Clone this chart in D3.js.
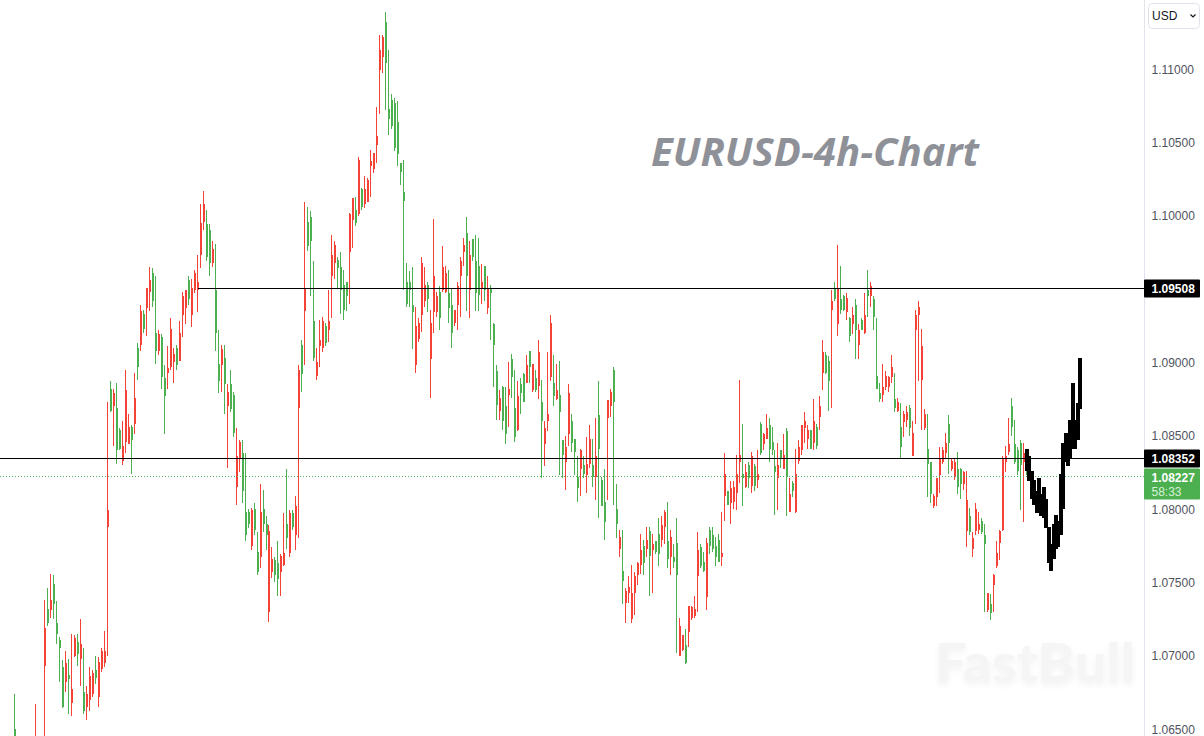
<!DOCTYPE html>
<html>
<head>
<meta charset="utf-8">
<title>EURUSD-4h-Chart</title>
<script src="https://d3js.org/d3.v7.min.js"></script>
<style>
  html, body { margin: 0; padding: 0; background: #fff; overflow: hidden; }
  svg { display: block; }
  text { font-family: "Liberation Sans", Arial, sans-serif; }
</style>
</head>
<body>
<div id="chart"></div>
<script>
// all candle values are in units of 0.0001 (10835 = 1.0835)
const highs = [
  10674,10640,10638,10642,10640,10643,10642,10667,10642,10643,
  10738,10746,10756,10755,10737,10713,10697,10703,10698,10715,
  10714,10715,10725,10705,10679,10692,10690,10700,10699,10705,
  10717,10873,10887,10882,10886,10855,10860,10895,10865,10857,
  10893,10913,10939,10936,10951,10965,10964,10959,10922,10919,
  10898,10911,10930,10910,10912,10928,10948,10949,10959,10957,
  10963,10973,11008,11017,11004,10994,10983,10981,10922,10912,
  10912,10885,10895,10880,10855,10847,10847,10838,10800,10801,
  10804,10784,10817,10813,10795,10789,10774,10767,10778,10769,
  10797,10827,10799,10799,10809,10898,10915,11009,11006,11003,
  10969,10910,10929,10931,10927,10949,10987,10983,10972,10975,
  10963,10955,11002,11012,11013,11040,11019,11027,11026,11045,
  11043,11074,11123,11123,11139,11113,11083,11080,11078,11036,
  11038,10968,10962,10965,10938,10930,10972,10965,10955,10936,
  10998,10948,10952,10979,10966,10963,10951,10936,10955,10972,
  10985,10999,10983,10984,10987,10985,10967,10966,10959,10953,
  10927,10898,10881,10884,10883,10900,10906,10895,10887,10889,
  10893,10905,10908,10899,10895,10915,10888,10860,10907,10932,
  10905,10899,10901,10847,10850,10885,10865,10848,10836,10841,
  10836,10849,10857,10848,10862,10887,10822,10827,10874,10882,
  10897,10817,10786,10786,10746,10754,10762,10757,10764,10783,
  10779,10788,10788,10783,10778,10794,10795,10799,10805,10786,
  10776,10794,10726,10714,10718,10734,10734,10741,10784,10776,
  10771,10780,10788,10788,10781,10783,10798,10838,10812,10819,
  10819,10837,10888,10858,10831,10832,10839,10831,10840,10859,
  10852,10865,10862,10856,10840,10845,10840,10851,10855,10821,
  10819,10841,10847,10857,10866,10857,10854,10875,10858,10877,
  10915,10907,10904,10949,10955,10980,10966,10946,10947,10931,
  10938,10943,10926,10930,10947,10963,10955,10945,10930,10886,
  10899,10894,10891,10905,10893,10876,10872,10867,10870,10871,
  10860,10936,10942,10923,10868,10865,10832,10810,10821,10842,
  10842,10852,10864,10835,10834,10839,10828,10826,10826,
  10801,10784,10804,10798,10794,10790,10743,10742,10756,10778,
  10786,10836,10843,10862,10876,10861,10842,10847,10845,10839
];
const lows = [
  10630,10625,10622,10625,10628,10630,10632,10630,10630,10630,
  10640,10720,10726,10725,10708,10682,10664,10675,10660,10659,
  10699,10693,10679,10660,10656,10662,10672,10681,10665,10689,
  10692,10700,10866,10843,10831,10840,10830,10838,10844,10824,
  10851,10888,10908,10920,10918,10935,10938,10899,10905,10882,
  10851,10882,10895,10886,10895,10901,10917,10926,10939,10924,
  10947,10934,10964,10990,10969,10959,10965,10908,10879,10880,
  10865,10828,10866,10849,10803,10825,10804,10778,10787,10772,
  10782,10755,10760,10784,10772,10723,10753,10750,10741,10741,
  10761,10773,10767,10786,10772,10780,10880,10898,10976,10945,
  10901,10888,10897,10907,10911,10914,10930,10957,10950,10933,
  10929,10935,10940,10978,10993,11000,11004,11005,11009,11013,
  11029,11036,11069,11097,11072,11055,11059,11044,11034,11021,
  10949,10938,10938,10909,10893,10914,10921,10938,10934,10876,
  10920,10931,10922,10948,10947,10927,10910,10925,10922,10931,
  10966,10935,10930,10969,10935,10935,10940,10942,10933,10915,
  10883,10861,10861,10854,10844,10856,10876,10846,10853,10865,
  10873,10886,10886,10880,10880,10875,10821,10829,10853,10887,
  10870,10874,10823,10821,10813,10843,10839,10823,10805,10809,
  10821,10811,10828,10815,10806,10794,10802,10779,10806,10863,
  10803,10780,10767,10735,10722,10736,10722,10728,10748,10756,
  10755,10767,10741,10743,10769,10761,10774,10776,10760,10755,
  10760,10702,10700,10703,10694,10706,10724,10726,10730,10760,
  10757,10731,10769,10771,10761,10764,10761,10792,10803,10790,
  10800,10799,10818,10802,10814,10814,10811,10812,10814,10837,
  10840,10848,10832,10837,10796,10799,10828,10827,10795,10798,
  10808,10797,10831,10837,10845,10841,10841,10840,10841,10854,
  10881,10892,10867,10869,10942,10918,10933,10935,10929,10914,
  10919,10902,10902,10922,10919,10931,10938,10922,10882,10873,
  10873,10881,10880,10886,10866,10866,10834,10849,10856,10850,
  10836,10858,10887,10854,10854,10808,10804,10801,10802,10811,
  10831,10835,10824,10826,10820,10810,10807,10813,10774,
  10782,10767,10782,10783,10783,10730,10730,10724,10730,10760,
  10765,10785,10825,10837,10850,10831,10823,10799,10791,10823
];
const opens = [
  10650,10630,10632,10628,10636,10632,10640,10632,10640,10634,
  10693,10732,10731,10749,10722,10711,10692,10682,10687,10668,
  10700,10709,10698,10675,10665,10670,10674,10690,10672,10691,
  10695,10788,10882,10870,10869,10854,10833,10846,10844,10856,
  10858,10910,10912,10933,10937,10948,10961,10920,10908,10917,
  10889,10893,10897,10900,10910,10901,10932,10937,10956,10932,
  10949,10949,10973,10996,10994,10990,10968,10949,10899,10898,
  10903,10870,10885,10878,10815,10834,10838,10798,10798,10775,
  10800,10771,10767,10800,10790,10730,10757,10765,10763,10757,
  10762,10790,10770,10797,10782,10869,10912,10935,10996,10999,
  10928,10891,10911,10910,10925,10922,10959,10968,10970,10965,
  10953,10955,10975,10997,11004,11001,11018,11008,11009,11034,
  11032,11048,11099,11108,11132,11073,11079,11077,11064,11036,
  11016,10955,10955,10939,10898,10916,10932,10942,10953,10902,
  10934,10934,10948,10949,10948,10947,10939,10927,10939,10959,
  10975,10988,10949,10984,10969,10966,10950,10966,10937,10950,
  10926,10894,10867,10883,10870,10878,10902,10869,10854,10885,
  10892,10886,10908,10881,10889,10884,10873,10844,10860,10890,
  10886,10875,10878,10847,10832,10851,10860,10848,10822,10827,
  10830,10823,10831,10830,10822,10864,10820,10805,10862,10870,
  10895,10800,10773,10758,10736,10743,10725,10743,10755,10762,
  10775,10773,10785,10772,10778,10783,10779,10788,10778,10767,
  10767,10777,10700,10704,10707,10716,10726,10727,10754,10774,
  10764,10740,10786,10782,10775,10779,10767,10809,10812,10804,
  10805,10811,10832,10824,10815,10830,10816,10829,10820,10858,
  10844,10848,10857,10846,10829,10821,10840,10827,10853,10798,
  10818,10798,10833,10840,10855,10848,10854,10845,10856,10863,
  10893,10905,10901,10936,10950,10926,10943,10945,10934,10930,
  10926,10939,10912,10929,10920,10949,10945,10943,10891,10879,
  10878,10883,10883,10890,10875,10867,10856,10859,10861,10869,
  10836,10922,10932,10888,10855,10841,10832,10802,10808,10823,
  10832,10838,10858,10827,10822,10827,10827,10817,10785,
  10795,10773,10785,10786,10792,10782,10731,10735,10748,10761,
  10777,10786,10832,10839,10870,10844,10840,10845,10832,10838
];
const closes = [
  10640,10635,10626,10636,10632,10640,10634,10640,10634,10641,
  10719,10722,10738,10735,10715,10705,10665,10695,10684,10677,
  10712,10701,10708,10662,10674,10686,10688,10685,10696,10703,
  10703,10799,10867,10879,10840,10841,10843,10881,10856,10847,
  10876,10897,10935,10923,10951,10956,10942,10908,10919,10890,
  10877,10896,10923,10906,10898,10920,10945,10949,10943,10951,
  10961,10955,10995,11008,10972,10968,10977,10920,10887,10909,
  10885,10880,10868,10852,10836,10846,10812,10782,10790,10799,
  10786,10757,10798,10790,10782,10785,10766,10755,10752,10768,
  10770,10780,10797,10788,10802,10895,10892,10951,10979,10983,
  10903,10900,10915,10928,10913,10928,10973,10980,10964,10949,
  10936,10945,11001,11012,10995,11038,11006,11018,11024,11037,
  11043,11054,11113,11122,11104,11066,11061,11046,11042,11030,
  11010,10940,10949,10934,10925,10927,10968,10953,10943,10927,
  10959,10945,10930,10965,10961,10937,10920,10936,10952,10969,
  10980,10959,10973,10972,10947,10946,10955,10949,10951,10947,
  10912,10871,10876,10860,10851,10882,10890,10849,10877,10879,
  10873,10898,10897,10899,10881,10907,10860,10855,10865,10927,
  10877,10881,10866,10837,10842,10879,10845,10839,10814,10840,
  10824,10831,10848,10822,10836,10841,10802,10791,10874,10880,
  10873,10790,10781,10751,10744,10747,10743,10754,10763,10772,
  10763,10779,10768,10776,10771,10769,10789,10798,10766,10781,
  10764,10755,10720,10714,10695,10734,10733,10732,10772,10761,
  10758,10777,10775,10773,10767,10764,10770,10824,10803,10814,
  10815,10824,10837,10821,10825,10821,10836,10816,10824,10838,
  10851,10855,10841,10840,10825,10830,10834,10837,10822,10810,
  10812,10824,10842,10857,10860,10854,10841,10860,10843,10870,
  10907,10893,10887,10942,10943,10950,10936,10936,10944,10918,
  10932,10922,10922,10922,10932,10945,10952,10931,10882,10875,
  10883,10891,10890,10897,10869,10873,10842,10865,10866,10855,
  10852,10932,10938,10911,10865,10831,10810,10809,10821,10834,
  10840,10845,10845,10833,10832,10815,10817,10825,10806,
  10784,10780,10800,10790,10784,10776,10743,10729,10755,10770,
  10785,10834,10836,10844,10856,10832,10826,10830,10838,10826
];

// the hand drawn black path at the right end
const pathHighs = [10841,10836,10826,10820,10812,10821,10810,10815,10807,10788,10776,10790,10796,10792,10824,10845,10852,10847,10861,10886,10861,10872,10903];
const pathLows = [10826,10819,10807,10803,10797,10799,10795,10794,10787,10763,10758,10766,10773,10774,10782,10800,10832,10829,10835,10841,10841,10847,10868];

const priceTicks = [1.11, 1.105, 1.1, 1.095, 1.09, 1.085, 1.08, 1.075, 1.07, 1.065];
const level1 = 1.09508;
const level2 = 1.08352;
const lastPrice = 1.08227;
const countdown = "58:33";

const width = 1204;
const height = 736;
const axisX = 1144;
const upColor = "#f44336";
const downColor = "#4caf50";

const svg = d3.select("#chart").append("svg").attr("width", width).attr("height", height);
svg.append("rect").attr("width", width).attr("height", height).attr("fill", "#fff");

const y = d3.scaleLinear().domain([1.065, 1.11]).range([729, 69]);
const x = d3.scalePoint().domain(d3.range(highs.length)).range([14, 1026]);
const xPath = d3.scalePoint().domain(d3.range(pathHighs.length)).range([1027, 1080]);
const py = (v) => y(v / 10000);
// level lines and tags sit on a whole pixel
const levelY = (v) => Math.round(y(v) + 0.6) + 0.5;

// watermark
svg.append("defs").append("filter").attr("id", "soft")
  .attr("x", "-10%").attr("y", "-20%").attr("width", "120%").attr("height", "150%")
  .append("feDropShadow")
  .attr("dx", 0).attr("dy", 3).attr("stdDeviation", 3)
  .attr("flood-color", "#000").attr("flood-opacity", 0.05);
svg.append("text")
  .attr("x", 935).attr("y", 682)
  .attr("textLength", 200).attr("lengthAdjust", "spacingAndGlyphs")
  .attr("fill", "#f5f5f5").attr("filter", "url(#soft)")
  .style("font-family", "Lato, Inter, sans-serif").style("font-weight", 900).style("font-size", "54px")
  .text("FastBull");

// title
svg.append("text")
  .attr("x", 651).attr("y", 166)
  .attr("textLength", 328).attr("lengthAdjust", "spacingAndGlyphs")
  .attr("fill", "#8f9199")
  .style("font-family", "'Open Sans', sans-serif").style("font-weight", 700).style("font-style", "italic").style("font-size", "39px")
  .text("EURUSD-4h-Chart");

// candles
const candles = svg.append("g").selectAll("g").data(d3.range(highs.length)).join("g")
  .attr("fill", (i) => (closes[i] >= opens[i] ? upColor : downColor))
  .attr("shape-rendering", "crispEdges");

candles.append("rect")
  .attr("x", (i) => Math.round(x(i)))
  .attr("width", 1)
  .attr("y", (i) => py(highs[i]))
  .attr("height", (i) => py(lows[i]) - py(highs[i]));

candles.append("rect")
  .attr("x", (i) => Math.round(x(i)))
  .attr("width", 2)
  .attr("y", (i) => py(Math.max(opens[i], closes[i])))
  .attr("height", (i) => Math.max(1, Math.abs(py(opens[i]) - py(closes[i]))));

// price levels
svg.append("line")
  .attr("x1", 198).attr("x2", axisX).attr("y1", levelY(level1)).attr("y2", levelY(level1))
  .attr("stroke", "#000").attr("stroke-width", 1);
svg.append("line")
  .attr("x1", 0).attr("x2", axisX).attr("y1", levelY(level2)).attr("y2", levelY(level2))
  .attr("stroke", "#000").attr("stroke-width", 1);
svg.append("line")
  .attr("x1", 0).attr("x2", axisX).attr("y1", levelY(lastPrice)).attr("y2", levelY(lastPrice))
  .attr("stroke", downColor).attr("stroke-width", 1).attr("stroke-dasharray", "1 2");

// black path
svg.append("g").selectAll("rect").data(d3.range(pathHighs.length)).join("rect")
  .attr("x", (i) => xPath(i) - 2)
  .attr("width", 4)
  .attr("y", (i) => py(pathHighs[i]))
  .attr("height", (i) => py(pathLows[i]) - py(pathHighs[i]))
  .attr("fill", "#000")
  .attr("shape-rendering", "crispEdges");

// price axis
svg.append("rect").attr("x", axisX).attr("y", 0).attr("width", width - axisX).attr("height", height).attr("fill", "#fff");
const axis = svg.append("g")
  .attr("transform", `translate(${axisX + 0.5},0.4)`)
  .call(d3.axisRight(y).tickValues(priceTicks).tickFormat(d3.format(".5f")).tickSize(0).tickPadding(7));
axis.select(".domain").remove();
axis.append("line").attr("y1", -1).attr("y2", height).attr("stroke", "#e0e3eb");
axis.selectAll("text").attr("fill", "#50535e").style("font-size", "12px").style("font-family", "'Liberation Sans', sans-serif");

// tags on the axis
function levelTag(value, fill) {
  const cy = levelY(value);
  svg.append("rect").attr("x", axisX).attr("y", cy - 9).attr("width", 56).attr("height", 18).attr("fill", fill).attr("rx", 1);
  svg.append("text").attr("x", axisX + 7.5).attr("y", cy + 4.3)
    .attr("fill", "#fff").style("font-size", "12px").style("font-weight", 700)
    .text(value.toFixed(5));
}
levelTag(level1, "#000");

const lastY = levelY(lastPrice);
svg.append("rect").attr("x", axisX).attr("y", lastY - 8).attr("width", 56).attr("height", 31).attr("fill", downColor).attr("rx", 1);
svg.append("text").attr("x", axisX + 7.5).attr("y", lastY + 5)
  .attr("fill", "#fff").style("font-size", "12px").style("font-weight", 700)
  .text(lastPrice.toFixed(5));
svg.append("text").attr("x", axisX + 7.5).attr("y", lastY + 19)
  .attr("fill", "#d6efd8").style("font-size", "12px")
  .text(countdown);
levelTag(level2, "#000");

// currency box
svg.append("rect").attr("x", 1148.5).attr("y", 3.5).attr("width", 51).attr("height", 25).attr("rx", 4)
  .attr("fill", "#fff").attr("stroke", "#e0e3eb");
svg.append("text").attr("x", 1152).attr("y", 20).attr("fill", "#131722").style("font-size", "12px").text("USD");
svg.append("path").attr("d", "M1190.5 14.5l2.5 2.5l2.5-2.5").attr("fill", "none").attr("stroke", "#131722").attr("stroke-width", 1.2);
</script>
</body>
</html>
